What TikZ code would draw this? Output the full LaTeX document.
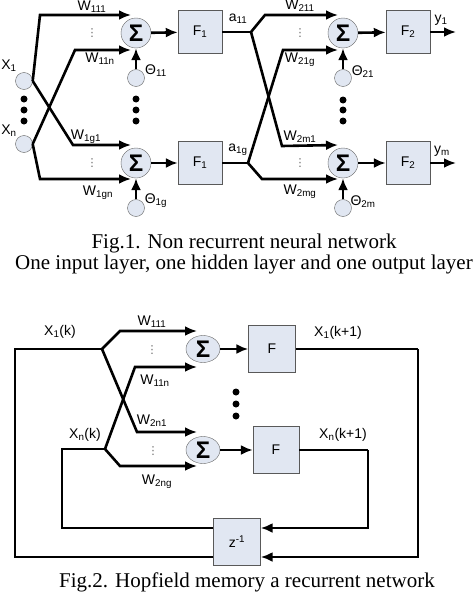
\documentclass[tikz,border=0pt]{standalone}
\usepackage{fontspec}
\setmainfont{Liberation Serif}
\setsansfont{Liberation Sans}
\newfontfamily\dotsfont{DejaVu Sans}
\usetikzlibrary{calc,shapes.geometric,arrows.meta}
\definecolor{cellfill}{RGB}{225,231,242}
\tikzset{
  wire/.style={line width=2.6pt},
  sumnode/.style={circle,draw=gray!80!black,fill=cellfill,minimum size=30pt,inner sep=0pt,font=\sffamily\bfseries\fontsize{24}{24}\selectfont},
  sumoval/.style={sumnode,ellipse,minimum width=34pt,minimum height=27pt},
  innode/.style={circle,draw=gray!80!black,fill=cellfill,minimum size=17pt,inner sep=0pt},
  fbox/.style={rectangle,draw=gray!70!black,fill=cellfill,minimum width=44pt,minimum height=43pt,font=\sffamily\fontsize{14}{14}\selectfont},
  lbl/.style={font=\sffamily\fontsize{14}{14}\selectfont,inner sep=0pt},
  vdot/.style={font=\dotsfont\fontsize{11}{11}\selectfont,text=gray!80!black,inner sep=0pt},
  capt/.style={font=\fontsize{21}{18.5}\selectfont,align=center},
  dot/.style={circle,fill=black,minimum size=7pt,inner sep=0pt}
}
\begin{document}
\begin{tikzpicture}[x=1pt,y=-1pt,>={Latex[length=12pt,width=10pt]}]
\useasboundingbox (0,0) rectangle (474,594);
% Fig.1: inputs
\node[innode] (x1) at (24,81) {};
\node[innode] (xn) at (24,144) {};
\node[lbl] at (9,66) {X\textsubscript{1}};
\node[lbl] at (9,131) {X\textsubscript{n}};
\foreach \y in {99,110,121} {\node[dot] at (24,\y) {};}
% hidden layer
\node[sumnode] (s11) at (136,33) {Σ};
\node[sumnode] (s1g) at (136,163) {Σ};
\node[innode] (b11) at (136,78) {};
\node[innode] (b1g) at (136,208) {};
\node[fbox] (f11) at (200,32) {F\textsubscript{1}};
\node[fbox] (f1g) at (200,163) {F\textsubscript{1}};
\foreach \y in {99,110,121} {\node[dot] at (136,\y) {};}
\draw[wire,->] (x1.east) -- (40,15) -- ($(s11)+(-5,-18)$);
\draw[wire,->] (xn.east) -- (75,50) -- ($(s11)+(-5,17)$);
\draw[wire,->] (x1.east) -- (73,145) -- ($(s1g)+(-5,-18)$);
\draw[wire,->] (xn.east) -- (40,179) -- ($(s1g)+(-5,16)$);
\draw[wire,->] (b11) -- (s11);
\draw[wire,->] (b1g) -- (s1g);
\draw[wire,->] (s11) -- (f11);
\draw[wire,->] (s1g) -- (f1g);
\node[lbl] at (92,7) {W\textsubscript{111}};
\node[vdot] at (92,33) {⋮};
\node[lbl] at (100,59) {W\textsubscript{11n}};
\node[lbl] at (86,137) {W\textsubscript{1g1}};
\node[vdot] at (92,163) {⋮};
\node[lbl] at (98,193) {W\textsubscript{1gn}};
\node[lbl] at (156,71) {Θ\textsubscript{11}};
\node[lbl] at (156,201) {Θ\textsubscript{1g}};
% output layer
\node[sumnode] (s21) at (343,33) {Σ};
\node[sumnode] (s2m) at (343,163) {Σ};
\node[innode] (b21) at (343,78) {};
\node[innode] (b2m) at (343,208) {};
\node[fbox] (f21) at (408,32) {F\textsubscript{2}};
\node[fbox] (f2m) at (408,163) {F\textsubscript{2}};
\foreach \y in {100,110,121} {\node[dot] at (343,\y) {};}
\coordinate (a1) at (251,32);
\coordinate (ag) at (248,163);
\coordinate (y1) at (456,32);
\coordinate (ym) at (456,163);
\draw[wire] (f11) -- (a1);
\draw[wire] (f1g) -- (ag);
\draw[wire,->] (a1) -- (265,15) -- ($(s21)+(-5,-18)$);
\draw[wire,->] (a1) -- (282,146) -- ($(s2m)+(-5,-18)$);
\draw[wire,->] (ag) -- (283,50) -- ($(s21)+(-5,17)$);
\draw[wire,->] (ag) -- (262,179) -- ($(s2m)+(-5,16)$);
\draw[wire,->] (b21) -- (s21);
\draw[wire,->] (b2m) -- (s2m);
\draw[wire,->] (s21) -- (f21);
\draw[wire,->] (s2m) -- (f2m);
\draw[wire,->] (f21) -- (y1);
\draw[wire,->] (f2m) -- (ym);
\node[lbl] at (238,19) {a\textsubscript{11}};
\node[lbl] at (238,150) {a\textsubscript{1g}};
\node[lbl] at (300,6) {W\textsubscript{211}};
\node[vdot] at (300,33) {⋮};
\node[lbl] at (300,60) {W\textsubscript{21g}};
\node[lbl] at (300,137) {W\textsubscript{2m1}};
\node[vdot] at (300,163) {⋮};
\node[lbl] at (300,192) {W\textsubscript{2mg}};
\node[lbl] at (363,72) {Θ\textsubscript{21}};
\node[lbl] at (363,202) {Θ\textsubscript{2m}};
\node[lbl] at (441,20) {y\textsubscript{1}};
\node[lbl] at (442,151) {y\textsubscript{m}};
\node[capt] (cap1) at (244,254) {Fig.1. Non recurrent neural network\\One input layer, one hidden layer and one output layer};
% Fig.2: Hopfield
\node[sumoval] (t1) at (203,349) {Σ};
\node[sumoval] (tn) at (203,450) {Σ};
\node[fbox,minimum width=47pt,minimum height=47pt] (fa) at (272,349) {F};
\node[fbox,minimum width=46pt,minimum height=47pt] (fb) at (276,450) {F};
\node[fbox,minimum width=47pt,minimum height=47pt] (zd) at (237,542) {z\textsuperscript{-1}};
\foreach \y in {392,404,416} {\node[dot] at (236,\y) {};}
\coordinate (p1) at (102,349);
\coordinate (pn) at (105,449);
\coordinate (q1) at (418,349);
\coordinate (qn) at (368,450);
\draw[wire] (zd.west |- 0,557) -- (15,557) -- (15,349) -- (p1);
\draw[wire] (zd.west |- 0,528) -- (62,528) -- (62,449) -- (pn);
\draw[wire,->] (p1) -- (120,331) -- ($(t1)+(-6,-18)$);
\draw[wire,->] (p1) -- (137,432) -- ($(tn)+(-6,-18)$);
\draw[wire,->] (pn) -- (135,367) -- ($(t1)+(-6,18)$);
\draw[wire,->] (pn) -- (120,466) -- ($(tn)+(-6,16)$);
\draw[wire,->] (t1) -- (fa);
\draw[wire,->] (tn) -- (fb);
\draw[wire] (fa) -- (q1);
\draw[wire] (fb) -- (qn);
\draw[wire,->] (q1) -- (418,557) -- (zd.east |- 0,557);
\draw[wire,->] (qn) -- (368,528) -- (zd.east |- 0,528);
\node[lbl] at (60,332) {X\textsubscript{1}(k)};
\node[lbl] at (85,435) {X\textsubscript{n}(k)};
\node[lbl] at (152,322) {W\textsubscript{111}};
\node[vdot] at (152,350) {⋮};
\node[lbl] at (155,381) {W\textsubscript{11n}};
\node[lbl] at (152,421) {W\textsubscript{2n1}};
\node[vdot] at (153,451) {⋮};
\node[lbl] at (157,482) {W\textsubscript{2ng}};
\node[lbl] at (338,333) {X\textsubscript{1}(k+1)};
\node[lbl] at (343,435) {X\textsubscript{n}(k+1)};
\node[capt] (cap2) at (247,582) {Fig.2. Hopfield memory a recurrent network};
\end{tikzpicture}
\end{document}
